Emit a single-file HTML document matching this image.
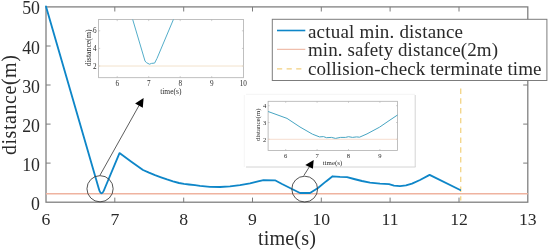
<!DOCTYPE html>
<html><head><meta charset="utf-8"><title>distance plot</title>
<style>
html,body{margin:0;padding:0;background:#fff;}
body{width:550px;height:250px;overflow:hidden;}
svg{display:block;}
text{font-family:"Liberation Serif",serif;fill:#2a2a2a;}
</style></head><body>
<svg width="550" height="250" viewBox="0 0 550 250">
<rect x="0" y="0" width="550" height="250" fill="#fff"/>

<rect x="46.0" y="6.9" width="481.79999999999995" height="195.29999999999998" fill="none" stroke="#7c7c7c" stroke-width="1.25"/>
<line x1="114.8" y1="202.2" x2="114.8" y2="197.6" stroke="#7c7c7c" stroke-width="1"/>
<line x1="114.8" y1="6.9" x2="114.8" y2="11.5" stroke="#7c7c7c" stroke-width="1"/>
<line x1="183.7" y1="202.2" x2="183.7" y2="197.6" stroke="#7c7c7c" stroke-width="1"/>
<line x1="183.7" y1="6.9" x2="183.7" y2="11.5" stroke="#7c7c7c" stroke-width="1"/>
<line x1="252.5" y1="202.2" x2="252.5" y2="197.6" stroke="#7c7c7c" stroke-width="1"/>
<line x1="252.5" y1="6.9" x2="252.5" y2="11.5" stroke="#7c7c7c" stroke-width="1"/>
<line x1="321.3" y1="202.2" x2="321.3" y2="197.6" stroke="#7c7c7c" stroke-width="1"/>
<line x1="321.3" y1="6.9" x2="321.3" y2="11.5" stroke="#7c7c7c" stroke-width="1"/>
<line x1="390.1" y1="202.2" x2="390.1" y2="197.6" stroke="#7c7c7c" stroke-width="1"/>
<line x1="390.1" y1="6.9" x2="390.1" y2="11.5" stroke="#7c7c7c" stroke-width="1"/>
<line x1="459.0" y1="202.2" x2="459.0" y2="197.6" stroke="#7c7c7c" stroke-width="1"/>
<line x1="459.0" y1="6.9" x2="459.0" y2="11.5" stroke="#7c7c7c" stroke-width="1"/>
<line x1="46.0" y1="163.1" x2="50.6" y2="163.1" stroke="#7c7c7c" stroke-width="1"/>
<line x1="527.8" y1="163.1" x2="523.1999999999999" y2="163.1" stroke="#7c7c7c" stroke-width="1"/>
<line x1="46.0" y1="124.1" x2="50.6" y2="124.1" stroke="#7c7c7c" stroke-width="1"/>
<line x1="527.8" y1="124.1" x2="523.1999999999999" y2="124.1" stroke="#7c7c7c" stroke-width="1"/>
<line x1="46.0" y1="85.0" x2="50.6" y2="85.0" stroke="#7c7c7c" stroke-width="1"/>
<line x1="527.8" y1="85.0" x2="523.1999999999999" y2="85.0" stroke="#7c7c7c" stroke-width="1"/>
<line x1="46.0" y1="46.0" x2="50.6" y2="46.0" stroke="#7c7c7c" stroke-width="1"/>
<line x1="527.8" y1="46.0" x2="523.1999999999999" y2="46.0" stroke="#7c7c7c" stroke-width="1"/>
<text x="46.0" y="224.5" font-size="17.7" text-anchor="middle">6</text>
<text x="114.8" y="224.5" font-size="17.7" text-anchor="middle">7</text>
<text x="183.7" y="224.5" font-size="17.7" text-anchor="middle">8</text>
<text x="252.5" y="224.5" font-size="17.7" text-anchor="middle">9</text>
<text x="321.3" y="224.5" font-size="17.7" text-anchor="middle">10</text>
<text x="390.1" y="224.5" font-size="17.7" text-anchor="middle">11</text>
<text x="459.0" y="224.5" font-size="17.7" text-anchor="middle">12</text>
<text x="527.8" y="224.5" font-size="17.7" text-anchor="middle">13</text>
<text x="40" y="209.7" font-size="17.8" text-anchor="end">0</text>
<text x="40" y="170.6" font-size="17.8" text-anchor="end">10</text>
<text x="40" y="131.6" font-size="17.8" text-anchor="end">20</text>
<text x="40" y="92.5" font-size="17.8" text-anchor="end">30</text>
<text x="40" y="53.5" font-size="17.8" text-anchor="end">40</text>
<text x="40" y="14.4" font-size="17.8" text-anchor="end">50</text>
<text x="257.9" y="245.3" font-size="20.2" textLength="58" lengthAdjust="spacing">time(s)</text>
<text transform="translate(16.4,155.1) rotate(-90)" font-size="20" textLength="100" lengthAdjust="spacing">distance(m)</text>
<line x1="46.0" y1="193.75" x2="527.8" y2="193.75" stroke="#efb3a0" stroke-width="1.4"/>
<line x1="460.7" y1="85" x2="460.7" y2="200.5" stroke="#f3d68c" stroke-width="1.4" stroke-dasharray="5.4 4.4" stroke-dashoffset="-3.5"/>
<path d="M46,6.4 L98.75,188.5 Q101.3,198 104.7,188.5 L119.5,153.1 L131.0,161.4 L143.0,170.0 L149.0,172.7 L155.0,175.1 L161.0,177.3 L167.0,179.4 L173.0,181.3 L179.0,183.0 L184.0,183.9 L189.0,184.5 L195.0,185.1 L200.0,185.9 L210.0,186.8 L220.0,187.0 L230.0,186.4 L240.0,185.2 L250.0,183.4 L258.0,181.4 L263.5,180.1 L275.0,180.3 L282.0,184.0 L292.0,189.0 L300.0,193.0 L310.0,193.0 L318.0,188.0 L326.0,181.4 L332.6,176.3 L340.0,176.8 L347.0,177.1 L354.0,179.0 L362.0,181.0 L370.0,182.6 L380.0,183.6 L389.0,184.2 L394.0,185.6 L400.0,186.2 L406.0,185.4 L412.0,183.6 L420.0,180.0 L429.6,174.9 L460.2,190.0" fill="none" stroke="#0e86c8" stroke-width="1.85" stroke-linejoin="round" stroke-linecap="round"/>
<rect x="98.6" y="19.5" width="144.9" height="58.2" fill="#fff" stroke="#b0b0b0" stroke-width="0.8"/>
<line x1="117.2" y1="77.7" x2="117.2" y2="76.1" stroke="#b0b0b0" stroke-width="0.6"/>
<line x1="117.2" y1="19.5" x2="117.2" y2="21.1" stroke="#b0b0b0" stroke-width="0.6"/>
<text x="117.2" y="86" font-size="7.2" text-anchor="middle" fill="#5e5e5e">6</text>
<line x1="148.7" y1="77.7" x2="148.7" y2="76.1" stroke="#b0b0b0" stroke-width="0.6"/>
<line x1="148.7" y1="19.5" x2="148.7" y2="21.1" stroke="#b0b0b0" stroke-width="0.6"/>
<text x="148.7" y="86" font-size="7.2" text-anchor="middle" fill="#5e5e5e">7</text>
<line x1="180.2" y1="77.7" x2="180.2" y2="76.1" stroke="#b0b0b0" stroke-width="0.6"/>
<line x1="180.2" y1="19.5" x2="180.2" y2="21.1" stroke="#b0b0b0" stroke-width="0.6"/>
<text x="180.2" y="86" font-size="7.2" text-anchor="middle" fill="#5e5e5e">8</text>
<line x1="211.7" y1="77.7" x2="211.7" y2="76.1" stroke="#b0b0b0" stroke-width="0.6"/>
<line x1="211.7" y1="19.5" x2="211.7" y2="21.1" stroke="#b0b0b0" stroke-width="0.6"/>
<text x="211.7" y="86" font-size="7.2" text-anchor="middle" fill="#5e5e5e">9</text>
<text x="243.3" y="86" font-size="7.2" text-anchor="middle" fill="#5e5e5e">10</text>
<line x1="98.6" y1="30.8" x2="100.2" y2="30.8" stroke="#b0b0b0" stroke-width="0.6"/>
<line x1="243.5" y1="30.8" x2="241.9" y2="30.8" stroke="#b0b0b0" stroke-width="0.6"/>
<text x="96.6" y="33.3" font-size="7.2" text-anchor="end" fill="#5e5e5e">6</text>
<line x1="98.6" y1="48.4" x2="100.2" y2="48.4" stroke="#b0b0b0" stroke-width="0.6"/>
<line x1="243.5" y1="48.4" x2="241.9" y2="48.4" stroke="#b0b0b0" stroke-width="0.6"/>
<text x="96.6" y="50.9" font-size="7.2" text-anchor="end" fill="#5e5e5e">4</text>
<line x1="98.6" y1="66.0" x2="100.2" y2="66.0" stroke="#b0b0b0" stroke-width="0.6"/>
<line x1="243.5" y1="66.0" x2="241.9" y2="66.0" stroke="#b0b0b0" stroke-width="0.6"/>
<text x="96.6" y="68.5" font-size="7.2" text-anchor="end" fill="#5e5e5e">2</text>
<text x="160.2" y="93.5" font-size="7.6" textLength="21.2" lengthAdjust="spacingAndGlyphs" fill="#5e5e5e">time(s)</text>
<text transform="translate(91.2,66.2) rotate(-90)" font-size="7.8" textLength="36.8" lengthAdjust="spacing" fill="#5e5e5e">distance(m)</text>
<line x1="98.6" y1="66" x2="243.5" y2="66" stroke="#f0dfc6" stroke-width="0.9"/>
<polyline points="132.7,19.5 145.0,61.0 146.5,62.7 149.5,64.2 151.5,63.4 154.6,63.1 157.0,58.4 173.4,19.5" fill="none" stroke="#4aa9c6" stroke-width="0.95" stroke-linejoin="round"/>
<rect x="245" y="94" width="170" height="73" fill="#fff"/>
<line x1="415.2" y1="95" x2="415.2" y2="167" stroke="#cfcfcf" stroke-width="0.9"/>
<line x1="246" y1="167" x2="415.5" y2="167" stroke="#cfcfcf" stroke-width="0.9"/>
<line x1="246" y1="94.3" x2="415" y2="94.3" stroke="#f1f1f1" stroke-width="0.8"/>
<line x1="244.3" y1="95" x2="244.3" y2="167" stroke="#f3f3f3" stroke-width="0.8"/>
<rect x="268.1" y="101.3" width="129.4" height="49.2" fill="#fff" stroke="#b0b0b0" stroke-width="0.8"/>
<line x1="285.7" y1="150.5" x2="285.7" y2="149.0" stroke="#b0b0b0" stroke-width="0.6"/>
<line x1="285.7" y1="101.3" x2="285.7" y2="102.8" stroke="#b0b0b0" stroke-width="0.6"/>
<text x="285.7" y="157.8" font-size="6.6" text-anchor="middle" fill="#5e5e5e">6</text>
<line x1="317.1" y1="150.5" x2="317.1" y2="149.0" stroke="#b0b0b0" stroke-width="0.6"/>
<line x1="317.1" y1="101.3" x2="317.1" y2="102.8" stroke="#b0b0b0" stroke-width="0.6"/>
<text x="317.1" y="157.8" font-size="6.6" text-anchor="middle" fill="#5e5e5e">7</text>
<line x1="348.5" y1="150.5" x2="348.5" y2="149.0" stroke="#b0b0b0" stroke-width="0.6"/>
<line x1="348.5" y1="101.3" x2="348.5" y2="102.8" stroke="#b0b0b0" stroke-width="0.6"/>
<text x="348.5" y="157.8" font-size="6.6" text-anchor="middle" fill="#5e5e5e">8</text>
<line x1="379.9" y1="150.5" x2="379.9" y2="149.0" stroke="#b0b0b0" stroke-width="0.6"/>
<line x1="379.9" y1="101.3" x2="379.9" y2="102.8" stroke="#b0b0b0" stroke-width="0.6"/>
<text x="379.9" y="157.8" font-size="6.6" text-anchor="middle" fill="#5e5e5e">9</text>
<line x1="268.1" y1="105.7" x2="269.6" y2="105.7" stroke="#b0b0b0" stroke-width="0.6"/>
<line x1="397.5" y1="105.7" x2="396.0" y2="105.7" stroke="#b0b0b0" stroke-width="0.6"/>
<text x="266.2" y="107.9" font-size="6.6" text-anchor="end" fill="#5e5e5e">4</text>
<line x1="268.1" y1="122.5" x2="269.6" y2="122.5" stroke="#b0b0b0" stroke-width="0.6"/>
<line x1="397.5" y1="122.5" x2="396.0" y2="122.5" stroke="#b0b0b0" stroke-width="0.6"/>
<text x="266.2" y="124.7" font-size="6.6" text-anchor="end" fill="#5e5e5e">3</text>
<line x1="268.1" y1="139.3" x2="269.6" y2="139.3" stroke="#b0b0b0" stroke-width="0.6"/>
<line x1="397.5" y1="139.3" x2="396.0" y2="139.3" stroke="#b0b0b0" stroke-width="0.6"/>
<text x="266.2" y="141.5" font-size="6.6" text-anchor="end" fill="#5e5e5e">2</text>
<text x="322.8" y="164.6" font-size="6.8" textLength="19.4" lengthAdjust="spacingAndGlyphs" fill="#5e5e5e">time(s)</text>
<text transform="translate(260.3,141) rotate(-90)" font-size="7" textLength="32.6" lengthAdjust="spacing" fill="#5e5e5e">distance(m)</text>
<line x1="268.1" y1="139.3" x2="397.5" y2="139.3" stroke="#f2cfbc" stroke-width="0.7"/>
<polyline points="268.1,111.5 287.0,118.4 300.0,127.0 312.5,134.2 319.5,136.9 323.5,136.6 326.5,137.7 331.5,137.4 335.5,138.4 340.5,137.4 345.5,137.4 348.5,136.7 352.5,137.4 356.5,136.9 359.5,137.2 367.0,133.9 379.5,127.2 389.0,120.7 397.5,115.0" fill="none" stroke="#47a5c2" stroke-width="1" stroke-linejoin="round"/>
<circle cx="100.05" cy="188.75" r="13.1" fill="none" stroke="#404040" stroke-width="0.9"/>
<circle cx="304.7" cy="189.1" r="12.9" fill="none" stroke="#404040" stroke-width="0.9"/>
<line x1="100" y1="175.2" x2="139.2" y2="105.2" stroke="#333" stroke-width="0.8"/>
<polygon points="143.6,97.9 135.1,103.4 142.8,107.8" fill="#000"/>
<line x1="303.8" y1="175.6" x2="309.4" y2="166.8" stroke="#333" stroke-width="0.8"/>
<polygon points="313.7,160 305.3,165 312.9,168.8" fill="#000"/>
<rect x="272.3" y="19.3" width="274.6" height="61.2" fill="#fff" stroke="#7c7c7c" stroke-width="1"/>
<line x1="277" y1="30.5" x2="305.3" y2="30.5" stroke="#0e86c8" stroke-width="1.6"/>
<line x1="277" y1="49.3" x2="305.3" y2="49.3" stroke="#eba58c" stroke-width="0.9"/>
<line x1="277" y1="68.9" x2="305.3" y2="68.9" stroke="#f2cf80" stroke-width="1.2" stroke-dasharray="5.2 4.4"/>
<text x="308" y="37.5" font-size="19" fill="#1c1c1c" textLength="155" lengthAdjust="spacing">actual min. distance</text>
<text x="308" y="56.0" font-size="19" fill="#1c1c1c" textLength="190" lengthAdjust="spacing">min. safety distance(2m)</text>
<text x="308" y="74.9" font-size="19" fill="#1c1c1c" textLength="233.5" lengthAdjust="spacing">collision-check terminate time</text>
</svg></body></html>
